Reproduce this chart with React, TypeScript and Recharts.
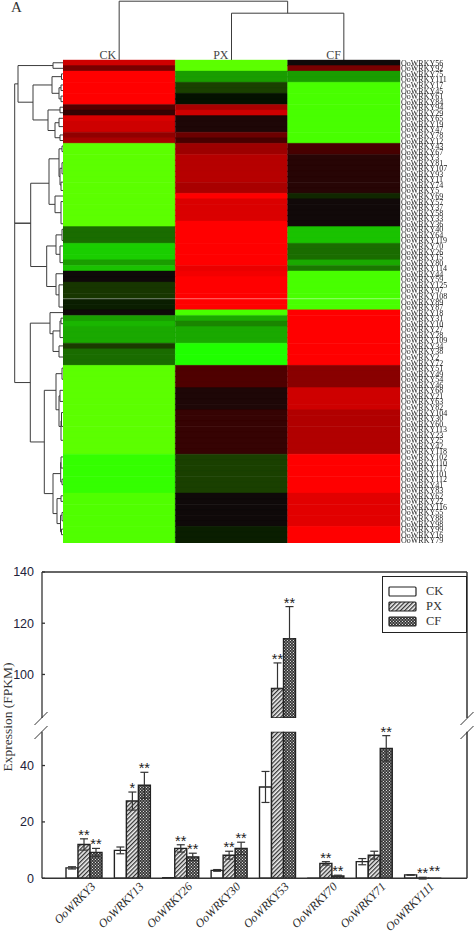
import React from "react";
import { Bar, BarChart, Cell, ErrorBar, LabelList, Legend, ReferenceLine, Scatter, ScatterChart, XAxis, YAxis } from "recharts";

// heatmap: one value per row, -1 = full green, 0 = black, 1 = full red
const geneIds = [
  56, 92, 75, 111, 17, 45, 61, 84, 94, 29, 65, 19, 47, 78, 12, 43, 67, 3, 81, 107,
  93, 11, 74, 5, 69, 57, 37, 58, 33, 36, 40, 64, 119, 70, 26, 15, 80, 114, 44, 59,
  125, 97, 108, 89, 87, 18, 31, 10, 27, 28, 109, 34, 38, 2, 72, 51, 49, 54, 46, 68,
  21, 63, 82, 104, 30, 60, 113, 23, 25, 42, 118, 102, 110, 117, 101, 112, 41, 83, 62, 22,
  116, 55, 88, 98, 99, 16, 79,
];
const heatColumns = ["CK", "PX", "CF"];
const heatCK = [
  0.8, 0.45, 1, 1, 1, 1, 1, 1, 0.3, 0.18, 0.85, 0.8, 0.8, 0.55, 0.65,
  -1, -1, -1, -1, -1, -1, -1, -1, -1, -1, -1, -1, -1, -1, -1,
  -0.4, -0.4, -0.4, -0.8, -0.8, -0.8, -0.6, -0.75, 0.02, 0.02, -0.18, -0.18, -0.18, -0.08, -0.08,
  0.02, -0.6, -0.7, -0.65, -0.65, -0.65, -0.2, -0.4, -0.4, -0.4,
  -1, -1, -1, -1, -1, -1, -1, -1, -1, -1, -1, -1, -1, -1, -1, -1,
  -0.9, -0.9, -0.9, -0.9, -0.9, -0.9, -0.9,
  -0.97, -0.97, -0.97, -0.97, -0.97, -0.97, -0.97, -0.97, -0.97,
];
const heatPX = [
  -1, -1, -0.6, -0.6, -0.22, -0.22, -0.03, -0.03, 0.65, 0.8, 0.08, 0.08, 0.08, 0.4, 0.25,
  0.6, 0.6, 0.7, 0.7, 0.7, 0.7, 0.7, 0.65, 0.65, 1, 0.85, 0.85, 0.85, 0.85,
  1, 1, 1, 1, 1, 1, 1, 1, 0.92, 0.95, 1, 1, 1, 1, 1, 1,
  -0.95, -0.65, -0.5, -0.65, -0.65, -0.65, -0.85, -0.85, -0.85, -0.85,
  0.28, 0.28, 0.28, 0.28, 0.08, 0.08, 0.08, 0.08,
  0.18, 0.18, 0.18, 0.18, 0.18, 0.18, 0.18, 0.18,
  -0.22, -0.22, -0.22, -0.22, -0.22, -0.22, -0.22,
  0.02, 0.02, 0.02, 0.02, 0.02, 0.02, -0.08, -0.08, -0.08,
];
const heatCF = [
  0.02, 0.45, -0.6, -0.6, -0.95, -0.95, -0.95, -0.95, -0.95, -0.95, -0.95, -0.95, -0.95, -0.95, -0.95,
  0.25, 0.25, 0.12, 0.12, 0.12, 0.12, 0.12, 0.12, 0.12, -0.12, 0.03, 0.03, 0.03, 0.03, 0.03,
  -0.75, -0.75, -0.75, -0.4, -0.4, -0.4, -0.65, -0.45,
  -0.95, -0.95, -0.95, -0.95, -0.95, -0.95, -0.95,
  1, 1, 1, 1, 1, 1, 1, 1, 1, 1,
  0.52, 0.52, 0.52, 0.52, 0.8, 0.8, 0.8, 0.8,
  0.68, 0.68, 0.68, 0.68, 0.68, 0.68, 0.68, 0.68,
  1, 1, 1, 1, 1, 1, 1,
  0.88, 0.88, 0.88, 0.88, 0.88, 0.88, 1, 1, 1,
];

// dendrograms: [merge height, row A, height of A, row B, height of B]
const rowTree = [
  [53, 0.5, 63, 1.5, 63], [61, 4.5, 63, 5.5, 63], [61, 6.5, 63, 7.5, 63], [59, 5, 61, 7, 61],
  [61.5, 2.5, 63, 3.5, 63], [52, 3, 61.5, 6, 59], [60, 8.5, 63, 9.5, 63], [59, 10.5, 63, 12, 63],
  [60, 13.5, 63, 14.5, 63], [55, 11.3, 59, 14, 60], [48, 9, 60, 12.7, 55], [33, 4.5, 52, 10.8, 48],
  [18, 1, 53, 7.6, 33], [62, 15.5, 63, 16.5, 63], [62, 18.5, 63, 20.5, 63], [61, 22, 63, 23.5, 63],
  [60, 19.5, 62, 22.5, 61], [59, 16, 62, 21, 60], [61, 25.5, 63, 29.5, 63], [55, 24.5, 63, 27.5, 61],
  [49, 17.8, 59, 26, 55], [62, 30.5, 63, 32.5, 63], [60, 33.5, 63, 36.5, 63], [56, 31.5, 62, 35, 60],
  [59, 40.5, 63, 44.5, 63], [56, 38.5, 63, 42.3, 59], [46.7, 33.5, 56, 40.8, 56], [30.7, 22.2, 49, 37.2, 46.7],
  [61, 46.5, 63, 47.5, 63], [60, 47, 61, 50, 63], [59, 51.5, 63, 53.5, 63], [53, 48.8, 60, 52.5, 59],
  [50, 45.5, 63, 49.3, 53], [62, 55.5, 63, 57.5, 63], [60, 59.5, 63, 61.5, 63], [61.5, 63.5, 63, 66, 63],
  [61, 65, 61.5, 68.5, 63], [59, 60.5, 60, 66, 61], [56, 56.5, 62, 63, 59], [61, 71.5, 63, 73.5, 63],
  [62, 75.5, 63, 76.5, 63], [60.7, 72.5, 61, 76, 62], [61, 78.5, 63, 79.5, 63], [62, 81.5, 63, 83, 63],
  [61.5, 84.5, 63, 85.5, 63], [60.5, 82, 62, 85, 61.5], [57, 79, 61, 83.5, 60.5], [53, 74.5, 60.7, 81.7, 57],
  [44.3, 59.5, 56, 78.1, 53], [30.3, 47.4, 50, 68.8, 44.3], [14.7, 4.3, 18, 29.4, 30.7], [14.7, 29.4, 30.7, 58.1, 30.3],
];
const columnTree = [
  [0.78, 1.5, 0, 2.5, 0],
  [0.98, 0.5, 0, 2, 0.78],
];

// bar chart
const genes = ["OoWRKY3", "OoWRKY13", "OoWRKY26", "OoWRKY30", "OoWRKY53", "OoWRKY70", "OoWRKY71", "OoWRKY111"];
const ckValues = [3.7, 9.9, 0.2, 2.8, 32.4, 0.05, 5.9, 1.2];
const pxValues = [12, 27.4, 10.6, 8.2, 94.5, 5.3, 8.2, 0.05];
const cfValues = [9.2, 33, 7.6, 10.6, 114, 0.8, 46.1, 0.05];
const ckErrors = [0.4, 1.2, 0, 0.3, 5.5, 0, 1.1, 0.1];
const pxErrors = [2, 3.2, 1.3, 1.4, 10, 0.6, 1.4, 0.3];
const cfErrors = [1.4, 4.6, 1.3, 2.2, 12.5, 0.3, 4.5, 0];
const ckStars = ["", "", "", "", "", "", "", ""];
const pxStars = ["**", "*", "**", "**", "**", "**", "", "**"];
const cfStars = ["**", "**", "**", "**", "**", "**", "**", "**"];
// the CF stars of OoWRKY111 float above a bar with no visible error
const cfStarRaise = [0, 0, 0, 0, 0, 0, 0, 1];
const lowerTicks = [0, 20, 40];
const upperTicks = [100, 120, 140];
const lowerMax = 52;
const upperMin = 83;
const upperMax = 140;

const SERIF = "'Liberation Serif', serif";
const SANS = "'Liberation Sans', sans-serif";
const INK = "#2a2a2a";

const series = [
  { name: "CK", values: ckValues, errors: ckErrors, stars: ckStars, raise: null, fill: "#fff" },
  { name: "PX", values: pxValues, errors: pxErrors, stars: pxStars, raise: null, fill: "url(#hatch)" },
  { name: "CF", values: cfValues, errors: cfErrors, stars: cfStars, raise: cfStarRaise, fill: "url(#cross)" },
];

function heatColor(v: number) {
  if (v >= 0) {
    const rest = Math.round(Math.max(0, 10 * (1 - v * 4)));
    return `rgb(${Math.round(10 + 245 * v)},${rest},${rest})`;
  }
  const a = -v;
  const g = a >= 0.85 ? 255 : Math.round(10 + 245 * a);
  const r = a >= 0.85 ? Math.round(32 + ((a - 0.85) / 0.15) * 60) : Math.round(26 * Math.min(1, a / 0.2));
  return `rgb(${r},${g},0)`;
}

const heatRows = geneIds.map((id) => ({ label: `OoWRKY${id}`, CK: 1, PX: 1, CF: 1 }));
const heatValues: Record<string, number[]> = { CK: heatCK, PX: heatPX, CF: heatCF };

const lowerData = genes.map((gene, i) => {
  const row: Record<string, any> = { gene };
  series.forEach((s) => {
    const broken = s.values[i] > lowerMax;
    row[s.name] = Math.min(s.values[i], lowerMax);
    row[s.name + "Err"] = broken ? null : s.errors[i];
    row[s.name + "Top"] = broken ? 0 : s.errors[i] + (s.raise ? s.raise[i] : 0);
    row[s.name + "Star"] = broken ? "" : s.stars[i];
  });
  return row;
});

const upperData = genes.map((gene, i) => {
  const row: Record<string, any> = { gene };
  series.forEach((s) => {
    const shown = s.values[i] > upperMin;
    row[s.name + "Base"] = shown ? upperMin : null;
    row[s.name] = shown ? s.values[i] - upperMin : null;
    row[s.name + "Err"] = shown ? [0, s.errors[i]] : null;
    row[s.name + "Top"] = shown ? s.errors[i] : null;
    row[s.name + "Star"] = shown ? s.stars[i] : "";
  });
  return row;
});

function treeLines(tree: number[][], vertical: boolean) {
  return tree.map(([h, a, ha, b, hb], i) => {
    const pts = vertical
      ? [{ x: a, y: ha }, { x: a, y: h }, { x: b, y: h }, { x: b, y: hb }]
      : [{ x: ha, y: a }, { x: h, y: a }, { x: h, y: b }, { x: hb, y: b }];
    return (
      <Scatter
        key={i}
        data={pts}
        line={{ stroke: "#3c3c3c", strokeWidth: 1 }}
        shape={() => <g />}
        isAnimationActive={false}
      />
    );
  });
}

function GeneTick({ x, y, payload }: any) {
  return (
    <text
      x={x + 12}
      y={y + 1}
      transform={`rotate(-45 ${x + 12} ${y + 1})`}
      textAnchor="end"
      fontFamily={SERIF}
      fontStyle="italic"
      fontSize={12}
      fill={INK}
    >
      {payload.value}
    </text>
  );
}

function RowTick({ x, y, payload }: any) {
  return (
    <text x={x} y={y + 3} fontFamily={SERIF} fontSize={8} fill="#222" style={{ filter: "blur(0.2px)" }}>
      {payload.value}
    </text>
  );
}

function LegendBox() {
  return (
    <div style={{ border: "1.5px solid #222", background: "#fff", boxSizing: "border-box", width: 85, height: 57, padding: "7px 0 0 5px" }}>
      {series.map((s) => (
        <div key={s.name} style={{ display: "flex", alignItems: "center", height: 15 }}>
          <svg width={30} height={11}>
            <rect x={1} y={1} width={27} height={9} rx={1} fill={s.fill} stroke="#222" strokeWidth={1.2} />
          </svg>
          <span style={{ marginLeft: 8, fontFamily: SERIF, fontSize: 12.5, color: "#333" }}>{s.name}</span>
        </div>
      ))}
    </div>
  );
}

function starLabels(name: string) {
  return <LabelList dataKey={name + "Star"} position="top" offset={-1} fontFamily={SANS} fontSize={14.5} fill="#222" />;
}

function panelBars(withBase: boolean) {
  return series.flatMap((s) => [
    ...(withBase
      ? [<Bar key={s.name + "b"} dataKey={s.name + "Base"} stackId={s.name} fill="none" stroke="none" legendType="none" isAnimationActive={false} />]
      : []),
    <Bar key={s.name} dataKey={s.name} stackId={s.name} fill={s.fill} stroke="#222" strokeWidth={1.4} isAnimationActive={false}>
      <ErrorBar dataKey={s.name + "Err"} width={4} stroke="#333" strokeWidth={1.2} />
    </Bar>,
    <Bar key={s.name + "t"} dataKey={s.name + "Top"} stackId={s.name} fill="none" stroke="none" legendType="none" isAnimationActive={false}>
      {starLabels(s.name)}
    </Bar>,
  ]);
}

function breakMarks() {
  return [34.5, 460.5].map((x) => (
    <g key={x} stroke="#333" strokeWidth={1}>
      <line x1={x} y1={725} x2={x + 13} y2={712} />
      <line x1={x} y1={739} x2={x + 13} y2={726} />
    </g>
  ));
}

export default function App() {
  return (
    <div style={{ position: "absolute", left: 0, top: 0, width: 474, height: 932, overflow: "hidden", background: "#fff" }}>
      <svg width={0} height={0} style={{ position: "absolute" }}>
        <defs>
          <pattern id="hatch" width={3} height={3} patternUnits="userSpaceOnUse" patternTransform="rotate(45)">
            <rect width={3} height={3} fill="#f2f2f2" />
            <rect width={1.3} height={3} fill="#333" />
          </pattern>
          <pattern id="cross" width={3} height={3} patternUnits="userSpaceOnUse">
            <rect width={3} height={3} fill="#333" />
            <rect x={0.4} y={0.4} width={1.1} height={1.1} fill="#ddd" />
            <rect x={1.9} y={1.9} width={1.1} height={1.1} fill="#ddd" />
          </pattern>
        </defs>
      </svg>

      <div style={{ position: "absolute", left: 11, top: -1, fontFamily: SERIF, fontSize: 15, color: "#333" }}>A</div>

      {/* column dendrogram */}
      <div style={{ position: "absolute", left: 63, top: 0 }}>
        <ScatterChart width={337} height={60} margin={{ top: 0, right: 0, bottom: 0, left: 0 }}>
          <XAxis type="number" dataKey="x" domain={[0, 3]} hide />
          <YAxis type="number" dataKey="y" domain={[0, 1]} hide />
          {treeLines(columnTree, true)}
        </ScatterChart>
      </div>

      {/* row dendrogram */}
      <div style={{ position: "absolute", left: 0, top: 60 }}>
        <ScatterChart width={63} height={483} margin={{ top: 0, right: 0, bottom: 0, left: 0 }}>
          <XAxis type="number" dataKey="x" domain={[0, 63]} hide />
          <YAxis type="number" dataKey="y" domain={[0, 87]} reversed hide />
          {treeLines(rowTree, false)}
        </ScatterChart>
      </div>

      {/* heatmap */}
      <div style={{ position: "absolute", left: 63, top: 45 }}>
        <BarChart
          width={411}
          height={498}
          layout="vertical"
          data={heatRows}
          barCategoryGap={0}
          margin={{ top: 0, right: 0, bottom: 0, left: 0 }}
        >
          <XAxis
            type="number"
            orientation="top"
            height={15}
            domain={[0, 3]}
            ticks={[0.5, 1.5, 2.5]}
            tickFormatter={(v: number) => heatColumns[Math.floor(v)]}
            axisLine={false}
            tickLine={false}
            tickSize={0}
            tickMargin={1}
            tick={{ fontFamily: SERIF, fontSize: 12, fill: "#444", textAnchor: "end", dx: -3 }}
          />
          <YAxis
            type="category"
            dataKey="label"
            orientation="right"
            width={74}
            interval={0}
            axisLine={false}
            tickLine={false}
            tickSize={0}
            tickMargin={1}
            tick={<RowTick />}
          />
          {heatColumns.map((col) => (
            <Bar key={col} dataKey={col} stackId="heat" isAnimationActive={false}>
              {heatValues[col].map((v, i) => (
                <Cell key={i} fill={heatColor(v)} stroke={heatColor(v)} strokeWidth={0.4} />
              ))}
            </Bar>
          ))}
          <ReferenceLine y={`OoWRKY${geneIds[43]}`} position="start" stroke="#fff" strokeOpacity={0.45} strokeWidth={1} />
        </BarChart>
      </div>

      {/* bars above the axis break */}
      <div style={{ position: "absolute", left: 0, top: 560 }}>
        <BarChart
          width={474}
          height={158}
          data={upperData}
          barSize={12}
          barGap={0}
          margin={{ top: 12, right: 7, bottom: 0, left: 0 }}
        >
          <XAxis dataKey="gene" hide padding={{ left: 18, right: 20 }} />
          <XAxis xAxisId="edge" type="number" hide />
          <YAxis
            width={42}
            domain={[upperMin, upperMax]}
            allowDataOverflow
            ticks={upperTicks}
            tickSize={-3}
            tickMargin={11}
            stroke="#333"
            strokeWidth={1.3}
            tick={{ fontFamily: SANS, fontSize: 12.5, fill: "#22223a", stroke: "none" }}
          />
          {panelBars(true)}
          <ReferenceLine y={upperMax} stroke="#333" strokeWidth={1.5} />
          <ReferenceLine xAxisId="edge" x={genes.length - 1} stroke="#333" strokeWidth={1.5} />
          <Legend
            layout="horizontal"
            align="center"
            verticalAlign="middle"
            content={() => <LegendBox />}
            wrapperStyle={{ left: 382, top: 15.5, width: 85, height: 57 }}
          />
        </BarChart>
      </div>

      {/* bars below the axis break */}
      <div style={{ position: "absolute", left: 0, top: 725 }}>
        <BarChart
          width={474}
          height={207}
          data={lowerData}
          barSize={12}
          barGap={0}
          margin={{ top: 6.7, right: 7, bottom: 0, left: 0 }}
        >
          <XAxis
            dataKey="gene"
            height={53.7}
            interval={0}
            padding={{ left: 18, right: 20 }}
            tick={<GeneTick />}
            tickLine={false}
            stroke="#333"
            strokeWidth={1.5}
          />
          <XAxis xAxisId="edge" type="number" hide />
          <YAxis
            width={42}
            domain={[0, lowerMax]}
            allowDataOverflow
            ticks={lowerTicks}
            tickSize={-3}
            tickMargin={11}
            stroke="#333"
            strokeWidth={1.3}
            tick={{ fontFamily: SANS, fontSize: 12.5, fill: "#22223a", stroke: "none" }}
          />
          {panelBars(false)}
          <ReferenceLine xAxisId="edge" x={genes.length - 1} stroke="#333" strokeWidth={1.5} />
        </BarChart>
      </div>

      <svg width={474} height={932} style={{ position: "absolute", left: 0, top: 0, pointerEvents: "none" }}>
        {breakMarks()}
        <text
          x={0}
          y={0}
          transform="translate(12 717) rotate(-90)"
          textAnchor="middle"
          fontFamily={SERIF}
          fontSize={13.5}
          fill="#333"
        >
          Expression (FPKM)
        </text>
      </svg>
    </div>
  );
}
